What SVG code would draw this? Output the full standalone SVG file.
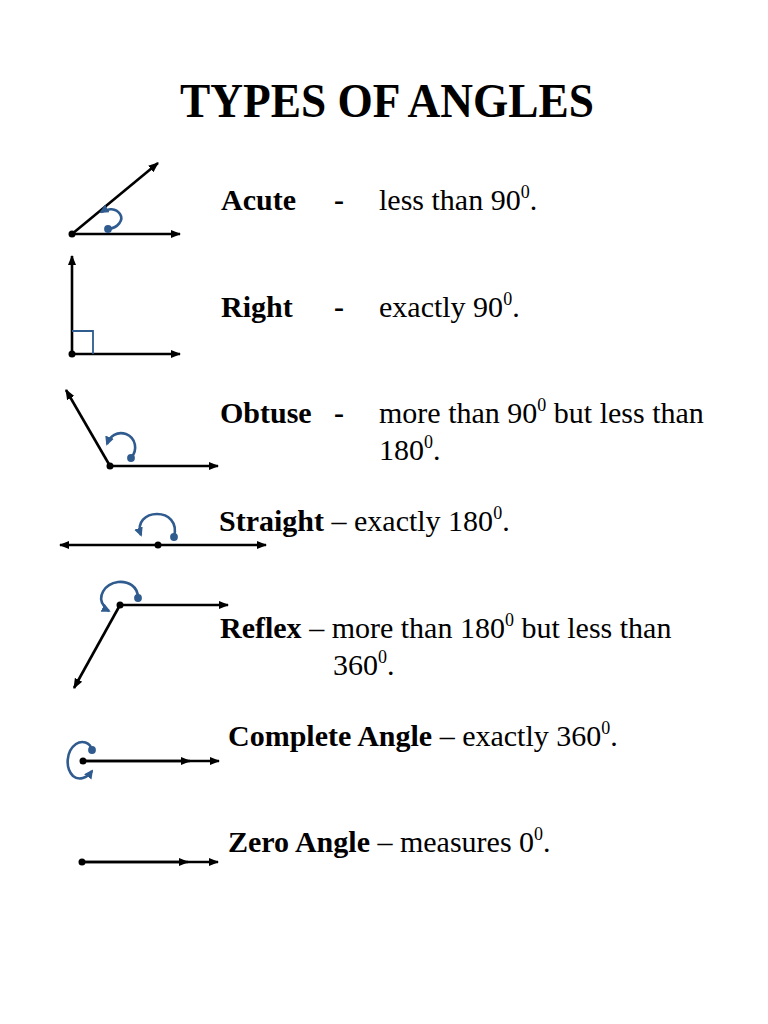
<svg xmlns="http://www.w3.org/2000/svg" width="768" height="1024" viewBox="0 0 768 1024">
<style>
.t{font-family:"Liberation Serif","Times New Roman",serif;font-size:30px;fill:#000}
.b{font-weight:bold}
.sup{font-size:18px}
.ray{stroke:#000;stroke-width:2.6;fill:none}
.arc{stroke:#2f5b8f;stroke-width:2.6;fill:none}
</style>
<defs>
<marker id="ah" viewBox="0 0 10 10" refX="9" refY="5" markerWidth="4" markerHeight="4" orient="auto" markerUnits="strokeWidth"><path d="M0,1 L10,5 L0,9 z" fill="#000"/></marker>
<marker id="ahb" viewBox="0 0 10 10" refX="8" refY="5" markerWidth="3.5" markerHeight="3.5" orient="auto" markerUnits="strokeWidth"><path d="M0,0 L10,5 L0,10 z" fill="#2f5b8f"/></marker>
<marker id="dotb" viewBox="0 0 10 10" refX="5" refY="5" markerWidth="3" markerHeight="3" markerUnits="strokeWidth"><circle cx="5" cy="5" r="5" fill="#2f5b8f"/></marker>
</defs>
<text x="180" y="117" class="t b" style="font-size:48px" textLength="414" lengthAdjust="spacingAndGlyphs">TYPES OF ANGLES</text>

<g id="acute">
<line class="ray" x1="72" y1="234" x2="180" y2="234" marker-end="url(#ah)"/>
<line class="ray" x1="72" y1="234" x2="158" y2="163" marker-end="url(#ah)"/>
<circle cx="72" cy="234" r="3.5"/>
<path class="arc" d="M108,229 C118,228 124,220 120,214 C116,208 108,208 101,212" marker-start="url(#dotb)" marker-end="url(#ahb)"/>
<text x="221" y="210" class="t b">Acute</text>
<text x="334" y="210" class="t b">-</text>
<text x="379" y="210" class="t">less than 90<tspan class="sup" dy="-12">0</tspan><tspan dy="12">.</tspan></text>
</g>

<g id="right">
<line class="ray" x1="72" y1="354" x2="180" y2="354" marker-end="url(#ah)"/>
<line class="ray" x1="72" y1="354" x2="72" y2="256" marker-end="url(#ah)"/>
<circle cx="72" cy="354" r="3.5"/>
<polyline points="72,331 93,331 93,354" stroke="#2f5b8f" stroke-width="1.8" fill="none"/>
<text x="221" y="317" class="t b">Right</text>
<text x="334" y="317" class="t b">-</text>
<text x="379" y="317" class="t">exactly 90<tspan class="sup" dy="-12">0</tspan><tspan dy="12">.</tspan></text>
</g>

<g id="obtuse">
<line class="ray" x1="110" y1="466" x2="218" y2="466" marker-end="url(#ah)"/>
<line class="ray" x1="110" y1="466" x2="66" y2="390" marker-end="url(#ah)"/>
<circle cx="110" cy="466" r="3.5"/>
<path class="arc" d="M131,458 C138,450 136,438 126,434 C117,431 110,436 107,444" marker-start="url(#dotb)" marker-end="url(#ahb)"/>
<text x="220" y="423" class="t b">Obtuse</text>
<text x="334" y="423" class="t b">-</text>
<text x="379" y="423" class="t">more than 90<tspan class="sup" dy="-12">0</tspan><tspan dy="12"> but less than</tspan></text>
<text x="379" y="460" class="t">180<tspan class="sup" dy="-12">0</tspan><tspan dy="12">.</tspan></text>
</g>

<g id="straight">
<line class="ray" x1="158" y1="545" x2="266" y2="545" marker-end="url(#ah)"/>
<line class="ray" x1="158" y1="545" x2="60" y2="545" marker-end="url(#ah)"/>
<circle cx="158" cy="545" r="3.5"/>
<path class="arc" d="M174,537 C178,522 168,514 157,514 C146,514 136,522 141,535" marker-start="url(#dotb)" marker-end="url(#ahb)"/>
<text x="219" y="531" class="t"><tspan class="b">Straight</tspan> – exactly 180<tspan class="sup" dy="-12">0</tspan><tspan dy="12">.</tspan></text>
</g>

<g id="reflex">
<line class="ray" x1="120" y1="605" x2="228" y2="605" marker-end="url(#ah)"/>
<line class="ray" x1="120" y1="605" x2="74" y2="688" marker-end="url(#ah)"/>
<circle cx="120" cy="605" r="3.5"/>
<path class="arc" d="M138,598 C138,586 128,581 118,582 C104,584 97,597 104,606 C105,608 107,610 109,611" marker-start="url(#dotb)" marker-end="url(#ahb)"/>
<text x="220" y="638" class="t"><tspan class="b">Reflex</tspan> – more than 180<tspan class="sup" dy="-12">0</tspan><tspan dy="12"> but less than</tspan></text>
<text x="333" y="675" class="t">360<tspan class="sup" dy="-12">0</tspan><tspan dy="12">.</tspan></text>
</g>

<g id="complete">
<line class="ray" x1="83" y1="761" x2="190" y2="761" marker-end="url(#ah)"/>
<line class="ray" x1="83" y1="761" x2="219" y2="761" marker-end="url(#ah)"/>
<circle cx="83" cy="761" r="3.5"/>
<path class="arc" d="M92,750 C90,742 82,740 76,744 C66,751 65,768 73,776 C79,781 87,778 92,771" marker-start="url(#dotb)" marker-end="url(#ahb)"/>
<text x="228" y="746" class="t"><tspan class="b">Complete Angle</tspan> – exactly 360<tspan class="sup" dy="-12">0</tspan><tspan dy="12">.</tspan></text>
</g>

<g id="zero">
<line class="ray" x1="82" y1="862" x2="188" y2="862" marker-end="url(#ah)"/>
<line class="ray" x1="82" y1="862" x2="218" y2="862" marker-end="url(#ah)"/>
<circle cx="82" cy="862" r="3.5"/>
<text x="228" y="852" class="t"><tspan class="b">Zero Angle</tspan> – measures 0<tspan class="sup" dy="-12">0</tspan><tspan dy="12">.</tspan></text>
</g>
<g id="connectors"/>
</svg>
